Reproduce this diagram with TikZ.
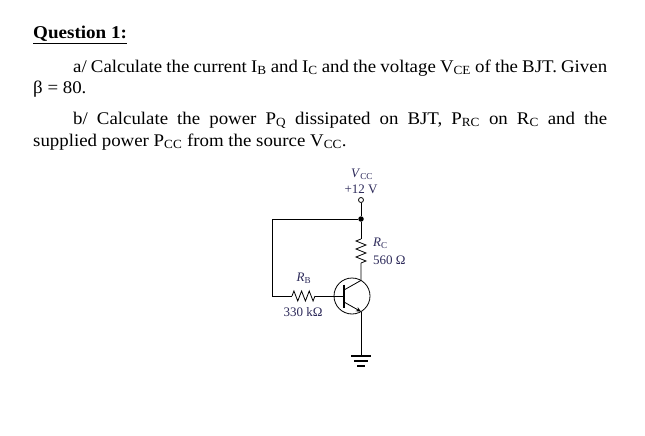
\documentclass[tikz,border=0pt]{standalone}
\usepackage{fontspec}
\setmainfont{Liberation Serif}
\newfontfamily\bodyfont{Liberation Serif}[FakeStretch=1.06]
\usepackage{xcolor}
\usepackage{tikz}
\usetikzlibrary{arrows.meta}

\definecolor{labelnavy}{RGB}{45,42,90}

\tikzset{
    wire/.style={line width=0.8pt},
    lbl/.style={text=labelnavy, inner sep=0pt, font=\fontsize{13}{15}\selectfont},
    body/.style={anchor=base west, inner sep=0pt, font=\bodyfont\fontsize{17.8}{20}\selectfont},
}

\begin{document}
\begin{tikzpicture}[x=1pt,y=-1pt]
        \useasboundingbox (0,0) rectangle (645,436);
        % question text
        \node[body, font=\bodyfont\fontsize{18}{22}\selectfont\bfseries] (title) at (33,39) {\underline{Question 1:}};
        \node[body] (qa1) at (73,72) {\hbox to 534pt{a/ Calculate the current I\textsubscript{B} and I\textsubscript{C} and the voltage V\textsubscript{CE} of the BJT. Given}};
        \node[body] (qa2) at (33,93) {β = 80.};
        \node[body] (qb1) at (73,124) {\hbox to 534pt{b/ Calculate the power P\textsubscript{Q} dissipated on BJT, P\textsubscript{RC} on R\textsubscript{C} and the}};
        \node[body] (qb2) at (33,146) {supplied power P\textsubscript{CC} from the source V\textsubscript{CC}.};
        % circuit
        \node[circle, draw, wire, fill=white, inner sep=0pt, minimum size=5pt] (term) at (361,200) {};
        \node[circle, fill, inner sep=0pt, minimum size=5.5pt] (jn) at (361,219) {};
        \coordinate (tl) at (272,219);
        \coordinate (bl) at (272,296);
        \coordinate (rbA) at (292,296);
        \coordinate (rbB) at (315,296);
        \coordinate (rcA) at (361,263);
        \coordinate (rcB) at (361,239);
        \node[circle, draw, wire, inner sep=0pt, minimum size=36pt] (q) at (352,296) {};
        \coordinate (base) at (344,296);
        \coordinate (colA) at (344,290);
        \coordinate (colB) at (361,280.4);
        \coordinate (emA) at (344,302);
        \coordinate (emB) at (361,311.6);
        \coordinate (gnd) at (361,356);
        % wires
        \draw[wire] (term) -- (jn) -- (tl) -- (bl) -- (rbA);
        \draw[wire] (jn) -- (rcB);
        \draw[wire] (rbA) -- ++(1.92,-5) \foreach \k in {1,...,5} { -- ++(3.83,{10*(-1)^(\k+1)}) } -- (rbB);
        \draw[wire] (rcA) -- ++(5,-2) \foreach \k in {1,...,5} { -- ++({-10*(-1)^(\k+1)},-4) } -- (rcB);
        \draw[wire] (rbB) -- (base);
        \draw[line width=2.6pt] (344,284.5) -- (344,307.5);
        \draw[wire] (colA) -- (colB) -- (rcA);
        \draw[wire, -{Stealth[length=5pt,width=4.5pt]}] (emA) -- (emB);
        \draw[wire] (emB) -- (gnd);
        % ground
        \draw[line width=1.8pt] (351,356) -- (371,356);
        \draw[line width=1.8pt] (354,361) -- (368,361);
        \draw[line width=1.8pt] (357,366) -- (365,366);
        % labels
        \node[lbl] (vcc) at (362,174) {\textit{V}\textsubscript{CC}};
        \node[lbl] (vval) at (361,189) {+12 V};
        \node[lbl, anchor=west] (rc) at (373,243) {\textit{R}\textsubscript{C}};
        \node[lbl, anchor=west] (rcv) at (373,260) {560 Ω};
        \node[lbl] (rb) at (304,278) {\textit{R}\textsubscript{B}};
        \node[lbl] (rbv) at (303,312) {330 kΩ};
    \end{tikzpicture}
\end{document}
